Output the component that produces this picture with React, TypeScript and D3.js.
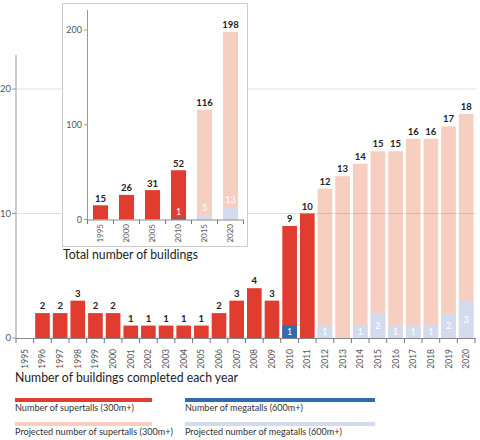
import React from "react";
import * as d3 from "d3";

const years = d3.range(1995, 2021).map(String);
const supertalls = [0, 2, 2, 3, 2, 2, 1, 1, 1, 1, 1, 2, 3, 4, 3, 9, 10, 12, 13, 14, 15, 15, 16, 16, 17, 18];
const projectedFrom = 2012;
const megatalls = [0, 0, 0, 0, 0, 0, 0, 0, 0, 0, 0, 0, 0, 0, 0, 1, 0, 1, 0, 1, 2, 1, 1, 1, 2, 3];
const yTicks = [0, 10, 20];

const insetYears = ["1995", "2000", "2005", "2010", "2015", "2020"];
const insetSupertalls = [15, 26, 31, 52, 116, 198];
const insetMegatalls = [0, 0, 0, 1, 5, 13];
const insetProjectedFrom = 2015;
const insetYTicks = [0, 100, 200];

const RED = "#e03c30";
const PINK = "#f6cfc1";
const BLUE = "#2f6db2";
const LBLUE = "#d3dcef";
const FONT = "Lato, 'Open Sans', sans-serif";

export default function App() {
  const x = d3.scaleBand<string>().domain(years).range([16, 475]).paddingInner(0.17).paddingOuter(0.085);
  const y = d3.scaleLinear().domain([0, 20]).range([338, 89]);
  const step = x.step();
  const pad = (step - x.bandwidth()) / 2;

  const xi = d3.scaleBand<string>().domain(insetYears).range([87.5, 243.5]).paddingInner(0.42).paddingOuter(0.21);
  const yi = d3.scaleLinear().domain([0, 200]).range([219.5, 30]);
  const stepI = xi.step();
  const padI = (stepI - xi.bandwidth()) / 2;

  return (
    <svg width={480} height={440} style={{ display: "block", position: "absolute", left: 0, top: 0 }} fontFamily={FONT}>
      <rect width={480} height={440} fill="#fff" />
      {/* main bars */}
      {years.map((yr, i) => {
        const v = supertalls[i];
        if (!v) return null;
        const proj = +yr >= projectedFrom;
        return (
          <rect key={"b" + yr} x={x(yr)} y={y(v)} width={x.bandwidth()} height={y(0) - y(v)} fill={proj ? PINK : RED} />
        );
      })}
      {years.map((yr, i) => {
        const m = megatalls[i];
        if (!m) return null;
        const proj = +yr >= projectedFrom;
        return (
          <g key={"m" + yr}>
            <rect x={x(yr)} y={y(m)} width={x.bandwidth()} height={y(0) - y(m)} fill={proj ? LBLUE : BLUE} />
            <text x={x(yr)! + x.bandwidth() / 2} y={(y(m) + y(0)) / 2} dy="0.36em" textAnchor="middle" fontSize={9} fill="#fff">{m}</text>
          </g>
        );
      })}
      {/* gridlines */}
      {yTicks.filter((t) => t > 0).map((t) => (
        <line key={"g" + t} x1={16} x2={476} y1={y(t)} y2={y(t)} stroke="#000" strokeOpacity={0.12} />
      ))}
      {/* value labels */}
      {years.map((yr, i) => {
        const v = supertalls[i];
        if (!v) return null;
        return (
          <text key={"l" + yr} x={x(yr)! + x.bandwidth() / 2} y={y(v) - 4} textAnchor="middle" fontSize={9.5} fontWeight="bold" fill="#222">{v}</text>
        );
      })}
      {/* y axis */}
      <line x1={16} x2={16} y1={55} y2={338} stroke="#999" />
      {yTicks.map((t) => (
        <g key={"yt" + t}>
          <line x1={12} x2={16} y1={y(t)} y2={y(t)} stroke="#999" />
          <text x={11} y={y(t)} dy="0.35em" textAnchor="end" fontSize={9.5} fill="#555">{t}</text>
        </g>
      ))}
      {/* x axis */}
      <line x1={16} x2={476} y1={338.5} y2={338.5} stroke="#888" />
      {d3.range(years.length + 1).map((i) => {
        const xx = i < years.length ? x(years[i])! - pad : x(years[years.length - 1])! + x.bandwidth() + pad;
        return <line key={"xt" + i} x1={xx} x2={xx} y1={338} y2={343} stroke="#777" />;
      })}
      {years.map((yr) => (
        <text key={"xl" + yr} transform={`translate(${x(yr)! + x.bandwidth() / 2},349) rotate(-90)`} dy="0.35em" textAnchor="end" fontSize={8.5} fill="#555">{yr}</text>
      ))}
      <text x={15} y={382} fontSize={14} fill="#222" textLength={223} lengthAdjust="spacingAndGlyphs">Number of buildings completed each year</text>

      {/* inset */}
      <rect x={62.5} y={3.5} width={185} height={243} fill="#fff" stroke="#ccc" />
      {insetYears.map((yr, i) => {
        const v = insetSupertalls[i];
        const proj = +yr >= insetProjectedFrom;
        return (
          <rect key={"ib" + yr} x={xi(yr)} y={yi(v)} width={xi.bandwidth()} height={yi(0) - yi(v)} fill={proj ? PINK : RED} />
        );
      })}
      {insetYears.map((yr, i) => {
        const m = insetMegatalls[i];
        if (!m) return null;
        const proj = +yr >= insetProjectedFrom;
        return (
          <g key={"im" + yr}>
            <rect x={xi(yr)} y={yi(m)} width={xi.bandwidth()} height={yi(0) - yi(m)} fill={proj ? LBLUE : BLUE} />
            <text x={xi(yr)! + xi.bandwidth() / 2} y={yi(m) - 4} textAnchor="middle" fontSize={9} fill="#fff">{m}</text>
          </g>
        );
      })}
      {insetYears.map((yr, i) => {
        const v = insetSupertalls[i];
        return (
          <text key={"il" + yr} x={xi(yr)! + xi.bandwidth() / 2} y={yi(v) - 3.5} textAnchor="middle" fontSize={9.5} fontWeight="bold" fill="#222">{v}</text>
        );
      })}
      <line x1={87.5} x2={87.5} y1={10} y2={220} stroke="#999" />
      {insetYTicks.map((t) => (
        <g key={"iyt" + t}>
          <line x1={84} x2={87.5} y1={yi(t)} y2={yi(t)} stroke="#999" />
          <text x={82} y={yi(t)} dy="0.35em" textAnchor="end" fontSize={9} fill="#555">{t}</text>
        </g>
      ))}
      <line x1={87.5} x2={243.5} y1={220} y2={220} stroke="#888" />
      {d3.range(insetYears.length + 1).map((i) => {
        const xx = i < insetYears.length ? xi(insetYears[i])! - padI : xi(insetYears[insetYears.length - 1])! + xi.bandwidth() + padI;
        return <line key={"ixt" + i} x1={xx} x2={xx} y1={220} y2={224} stroke="#777" />;
      })}
      {insetYears.map((yr) => (
        <text key={"ixl" + yr} transform={`translate(${xi(yr)! + xi.bandwidth() / 2},224) rotate(-90)`} dy="0.35em" textAnchor="end" fontSize={8} fill="#555">{yr}</text>
      ))}
      <text x={63} y={259} fontSize={13.5} fill="#222" textLength={135} lengthAdjust="spacingAndGlyphs">Total number of buildings</text>

      {/* legend */}
      <rect x={15} y={398} width={137} height={4} fill={RED} />
      <text x={15} y={411} fontSize={9} fill="#333" textLength={119} lengthAdjust="spacingAndGlyphs">Number of supertalls (300m+)</text>
      <rect x={15} y={422} width={137} height={4} fill={PINK} />
      <text x={15} y={435} fontSize={9} fill="#333" textLength={158} lengthAdjust="spacingAndGlyphs">Projected number of supertalls (300m+)</text>
      <rect x={185} y={398} width={190} height={4} fill={BLUE} />
      <text x={185} y={411} fontSize={9} fill="#333" textLength={118} lengthAdjust="spacingAndGlyphs">Number of megatalls (600m+)</text>
      <rect x={185} y={422} width={190} height={4} fill={LBLUE} />
      <text x={185} y={435} fontSize={9} fill="#333" textLength={157} lengthAdjust="spacingAndGlyphs">Projected number of megatalls (600m+)</text>
    </svg>
  );
}
